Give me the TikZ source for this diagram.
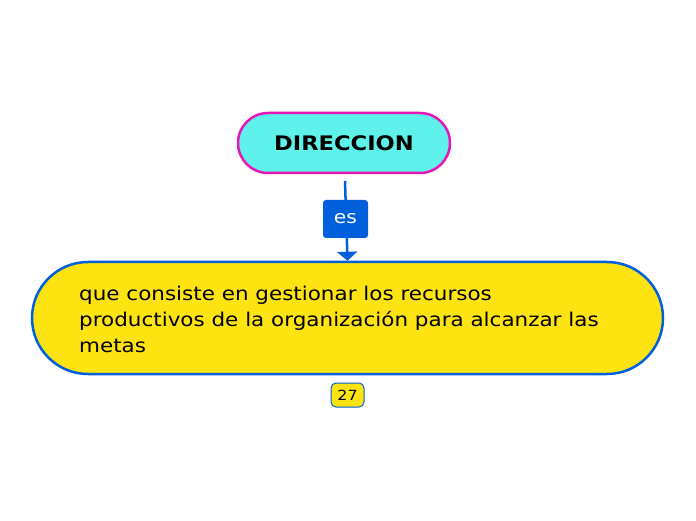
\documentclass[tikz,border=0pt]{standalone}
\usepackage{fontspec}
\setmainfont{DejaVu Sans}[FakeStretch=1.13]
\usetikzlibrary{arrows.meta}
\definecolor{cyanfill}{HTML}{5EF2EA}
\definecolor{magborder}{HTML}{E617B8}
\definecolor{yelfill}{HTML}{FCE311}
\definecolor{blueline}{HTML}{005FDB}
\tikzset{
  topbox/.style={draw=magborder, line width=2.5pt, fill=cyanfill, rounded corners=30pt,
    minimum width=212pt, minimum height=60pt, inner sep=0pt,
    font=\fontsize{20}{24}\selectfont\bfseries},
  mainbox/.style={draw=blueline, line width=2.5pt, fill=yelfill, rounded corners=56pt,
    minimum width=631pt, minimum height=112pt, inner sep=0pt},
  labelbox/.style={fill=blueline, rounded corners=3pt, minimum width=45pt, minimum height=38pt,
    inner sep=0pt, text=white, font=\fontsize{18}{20}\selectfont},
  badge/.style={draw=blueline, line width=1pt, fill=yelfill, rounded corners=5pt,
    minimum width=33pt, minimum height=24pt, inner sep=0pt, font=\fontsize{14}{16}\selectfont},
  conn/.style={draw=blueline, line width=2.5pt, -{Triangle[width=20pt,length=9pt]}}
}
\begin{document}
\begin{tikzpicture}[x=1pt,y=1pt]
\useasboundingbox (0,0) rectangle (696,520);
\node[topbox] (dir) at (344,377) {DIRECCION};
\node[mainbox] (main) at (347.5,202) {};
\node[anchor=north west, align=left, inner sep=0pt, font=\fontsize{19}{26}\selectfont] (txt) at (79,234)
  {que consiste en gestionar los recursos\\productivos de la organización para alcanzar las\\metas};
\coordinate (start) at (345,339);
\draw[conn] (start) -- (main.north);
\node[labelbox] (es) at (345.5,301) {es};
\node[badge] (num) at (347.5,125) {27};
\end{tikzpicture}
\end{document}
